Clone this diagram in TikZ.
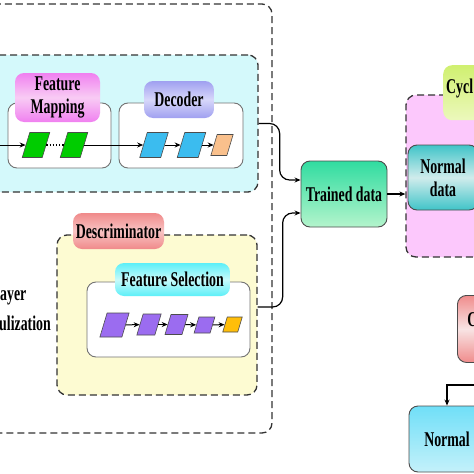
\documentclass[tikz,border=0pt]{standalone}
\usepackage{fontspec}
\newfontfamily\condfont[FakeStretch=0.66]{Liberation Serif}
\usetikzlibrary{arrows.meta}
\definecolor{cyanbg}{HTML}{D4F9FB}
\definecolor{yellowbg}{HTML}{FDFBD2}
\definecolor{pinkbg}{HTML}{FCC8FC}
\definecolor{grn}{HTML}{00CC00}
\definecolor{sky}{HTML}{3BBCEF}
\definecolor{peach}{HTML}{F9C08C}
\definecolor{purp}{HTML}{9B6CF0}
\definecolor{gold}{HTML}{FFBE0A}
\definecolor{mapA}{HTML}{F080F0}
\definecolor{mapB}{HTML}{F8CCF4}
\definecolor{decA}{HTML}{A0A0F0}
\definecolor{decB}{HTML}{D8D8FA}
\definecolor{disA}{HTML}{F08A8A}
\definecolor{disB}{HTML}{F8C4C4}
\definecolor{selA}{HTML}{5CEFF8}
\definecolor{selB}{HTML}{C8FAFA}
\definecolor{trA}{HTML}{30DCA0}
\definecolor{trB}{HTML}{B4F4CC}
\definecolor{tealA}{HTML}{40C4C8}
\definecolor{tealB}{HTML}{D0ECEC}
\definecolor{cycA}{HTML}{D0F070}
\definecolor{cycB}{HTML}{ECF8BC}
\definecolor{redA}{HTML}{F08C8C}
\definecolor{redB}{HTML}{F8E4E4}
\definecolor{skyA}{HTML}{70DFF8}
\definecolor{skyB}{HTML}{C4F1FA}

\begin{document}
\begin{tikzpicture}[x=1pt,y=-1pt,>={Stealth[length=6pt,width=5pt]},
  group/.style={draw=black!80,dash pattern=on 7pt off 4pt,line width=1.3pt,rounded corners=10pt},
  panel/.style={draw=black!55,fill=white,rounded corners=9pt,line width=0.9pt},
  tag/.style={rounded corners=9pt,font=\condfont\bfseries\fontsize{21}{23}\selectfont,align=center,inner sep=2pt},
  blockbox/.style={tag,draw=black!70,line width=0.9pt},
  para/.style={draw=black!70,line width=0.6pt,xslant=0.3,inner sep=0pt},
  link/.style={->,line width=1.2pt,rounded corners=10pt}]
\clip (0,0) rectangle (474,474);
% left part: generator and discriminator
\draw[group,fill=white] (-30,4) rectangle (272,433);
\node[group,fill=cyanbg,minimum width=278pt,minimum height=137pt] (gen) at (119,123.5) {};
\node[panel,minimum width=103pt,minimum height=65pt] (mapbox) at (59.5,135.5) {};
\node[tag,top color=mapA,bottom color=mapA,middle color=mapB,minimum width=85pt,minimum height=49pt] (maptag) at (57.5,97.5) {Feature\\Mapping};
\node[panel,minimum width=124pt,minimum height=65pt] (decbox) at (181,135.5) {};
\node[tag,top color=decA,bottom color=decA,middle color=decB,minimum width=70pt,minimum height=37pt] (dectag) at (179,99.5) {Decoder};
\node[para,fill=grn,minimum width=20pt,minimum height=25pt] (g1) at (36,145) {};
\node[para,fill=grn,minimum width=20pt,minimum height=25pt] (g2) at (74,145) {};
\node[para,fill=sky,minimum width=21pt,minimum height=25pt] (b1) at (154,145) {};
\node[para,fill=sky,minimum width=21pt,minimum height=25pt] (b2) at (191.5,145) {};
\node[para,fill=peach,minimum width=16pt,minimum height=21pt] (o1) at (222,145) {};
\coordinate (in) at (-5,145);
\draw[->,line width=1pt] (in) -- (g1);
\draw[dotted,line width=1.2pt] (g1) -- (g2);
\draw[->,line width=1pt] (g2) -- (b1);
\draw[->,line width=1pt] (b1) -- (b2);
\draw[->,line width=1pt] (b2) -- (o1);

\node[group,fill=yellowbg,minimum width=200pt,minimum height=160pt] (disc) at (157,315) {};
\node[tag,top color=disA,bottom color=disA,middle color=disB,minimum width=91pt,minimum height=36pt] (disctag) at (118.5,231) {Descriminator};
\node[panel,minimum width=163pt,minimum height=75pt] (selbox) at (168.5,319.5) {};
\node[tag,top color=selA,bottom color=selA,middle color=selB,minimum width=115pt,minimum height=33pt] (seltag) at (172.5,279.5) {Feature Selection};
\node[para,fill=purp,minimum width=22pt,minimum height=24pt] (p1) at (114.5,325) {};
\node[para,fill=purp,minimum width=18pt,minimum height=21pt] (p2) at (149,324.5) {};
\node[para,fill=purp,minimum width=17pt,minimum height=20pt] (p3) at (176.5,324.5) {};
\node[para,fill=purp,minimum width=16pt,minimum height=16pt] (p4) at (204.5,325) {};
\node[para,fill=gold,minimum width=15pt,minimum height=15pt] (o2) at (232.5,324.5) {};
\draw[->,line width=1pt] (p1) -- (p2);
\draw[->,line width=1pt] (p2) -- (p3);
\draw[->,line width=1pt] (p3) -- (p4);
\draw[->,line width=1pt] (p4) -- (o2);

\node[tag,anchor=base west,inner sep=0pt] (lay1) at (0,300) {ayer};
\node[tag,anchor=base west,inner sep=0pt] (lay2) at (-1,330) {ulization};

% right part
\node[blockbox,top color=trA,bottom color=trB,minimum width=86pt,minimum height=66pt] (trained) at (344,194) {Trained data};
\draw[link] (gen.east) -- ++(21,0) |- ([yshift=14pt]trained.west);
\draw[link] ([yshift=8pt]disc.east) -- ++(25,0) |- ([yshift=-19pt]trained.west);

\node[group,fill=pinkbg,minimum width=160pt,minimum height=162pt] (cycbox) at (486,176) {};
\node[tag,top color=cycA,bottom color=cycB,minimum width=100pt,minimum height=55pt,anchor=north west,inner xsep=3pt,text width=94pt,align=left,text depth=13pt] (cyctag) at (443,65) {Cycl};
\node[blockbox,top color=tealA,bottom color=tealA,middle color=tealB,minimum width=70pt,minimum height=65pt] (normal) at (443,177.5) {Normal\\data};
\draw[link] (trained.east) -- (trained.east -| cycbox.west);

\node[blockbox,top color=redA,bottom color=redA,middle color=redB,minimum width=80pt,minimum height=67pt,anchor=north west,inner xsep=10pt,text width=60pt,align=left,text depth=19pt] (ctag) at (457,295) {C};
\node[blockbox,top color=skyA,bottom color=skyB,minimum width=76pt,minimum height=66pt] (normal2) at (447,439) {Normal};
\coordinate (cjoin) at (480,385);
\draw[->,line width=1.1pt] (cjoin) -| (normal2.north);
\end{tikzpicture}
\end{document}
